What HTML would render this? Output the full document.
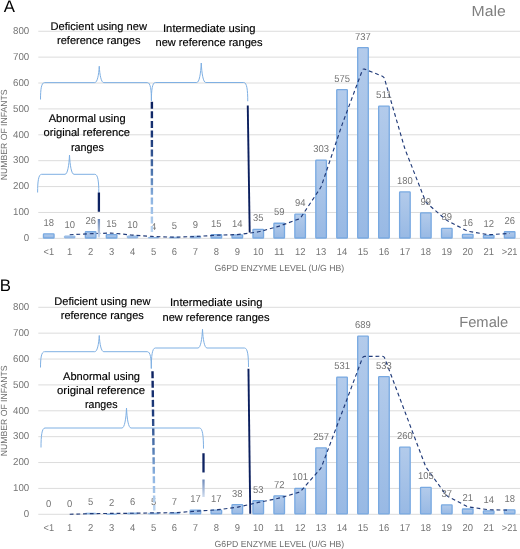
<!DOCTYPE html>
<html><head><meta charset="utf-8"><title>G6PD enzyme level</title>
<style>html,body{margin:0;padding:0;background:#fff}svg{display:block}text{font-family:"Liberation Sans",sans-serif;text-rendering:geometricPrecision}</style></head><body>
<svg width="520" height="549" viewBox="0 0 520 549">
<defs>
<linearGradient id="bar" x1="0" y1="0" x2="0" y2="1"><stop offset="0" stop-color="#b3cbeb"/><stop offset="1" stop-color="#98b9e4"/></linearGradient>
</defs>
<rect width="520" height="549" fill="#fff"/>
<g id="panel-A">
<line x1="38.3" x2="520" y1="238.35" y2="238.35" stroke="#dcdcdc" stroke-width="1"/>
<text x="23.80" y="241.15" font-size="10" fill="#747474" textLength="5.40" lengthAdjust="spacingAndGlyphs">0</text>
<line x1="38.3" x2="520" y1="212.46" y2="212.46" stroke="#dcdcdc" stroke-width="1"/>
<text x="13.00" y="215.26" font-size="10" fill="#747474" textLength="16.20" lengthAdjust="spacingAndGlyphs">100</text>
<line x1="38.3" x2="520" y1="186.57" y2="186.57" stroke="#dcdcdc" stroke-width="1"/>
<text x="13.00" y="189.37" font-size="10" fill="#747474" textLength="16.20" lengthAdjust="spacingAndGlyphs">200</text>
<line x1="38.3" x2="520" y1="160.69" y2="160.69" stroke="#dcdcdc" stroke-width="1"/>
<text x="13.00" y="163.49" font-size="10" fill="#747474" textLength="16.20" lengthAdjust="spacingAndGlyphs">300</text>
<line x1="38.3" x2="520" y1="134.80" y2="134.80" stroke="#dcdcdc" stroke-width="1"/>
<text x="13.00" y="137.60" font-size="10" fill="#747474" textLength="16.20" lengthAdjust="spacingAndGlyphs">400</text>
<line x1="38.3" x2="520" y1="108.91" y2="108.91" stroke="#dcdcdc" stroke-width="1"/>
<text x="13.00" y="111.71" font-size="10" fill="#747474" textLength="16.20" lengthAdjust="spacingAndGlyphs">500</text>
<line x1="38.3" x2="520" y1="83.02" y2="83.02" stroke="#dcdcdc" stroke-width="1"/>
<text x="13.00" y="85.82" font-size="10" fill="#747474" textLength="16.20" lengthAdjust="spacingAndGlyphs">600</text>
<line x1="38.3" x2="520" y1="57.13" y2="57.13" stroke="#dcdcdc" stroke-width="1"/>
<text x="13.00" y="59.93" font-size="10" fill="#747474" textLength="16.20" lengthAdjust="spacingAndGlyphs">700</text>
<line x1="38.3" x2="520" y1="31.25" y2="31.25" stroke="#dcdcdc" stroke-width="1"/>
<text x="13.00" y="34.05" font-size="10" fill="#747474" textLength="16.20" lengthAdjust="spacingAndGlyphs">800</text>
<rect x="43.45" y="233.84" width="10.6" height="4.16" fill="url(#bar)" stroke="#78a9e1" stroke-width="1.3" rx="0.6"/>
<rect x="64.40" y="235.91" width="10.6" height="2.09" fill="url(#bar)" stroke="#78a9e1" stroke-width="0.7" rx="0.6"/>
<rect x="85.35" y="231.77" width="10.6" height="6.23" fill="url(#bar)" stroke="#78a9e1" stroke-width="1.3" rx="0.6"/>
<rect x="106.30" y="234.62" width="10.6" height="3.38" fill="url(#bar)" stroke="#78a9e1" stroke-width="1.3" rx="0.6"/>
<rect x="127.25" y="235.91" width="10.6" height="2.09" fill="url(#bar)" stroke="#78a9e1" stroke-width="0.7" rx="0.6"/>
<rect x="148.20" y="237.46" width="10.6" height="0.54" fill="url(#bar)" stroke="#78a9e1" stroke-width="0.7" rx="0.6"/>
<rect x="169.15" y="237.21" width="10.6" height="0.79" fill="url(#bar)" stroke="#78a9e1" stroke-width="0.7" rx="0.6"/>
<rect x="190.10" y="236.17" width="10.6" height="1.83" fill="url(#bar)" stroke="#78a9e1" stroke-width="0.7" rx="0.6"/>
<rect x="211.05" y="234.62" width="10.6" height="3.38" fill="url(#bar)" stroke="#78a9e1" stroke-width="1.3" rx="0.6"/>
<rect x="232.00" y="234.88" width="10.6" height="3.12" fill="url(#bar)" stroke="#78a9e1" stroke-width="1.3" rx="0.6"/>
<rect x="252.95" y="229.44" width="10.6" height="8.56" fill="url(#bar)" stroke="#78a9e1" stroke-width="1.3" rx="0.6"/>
<rect x="273.90" y="223.23" width="10.6" height="14.77" fill="url(#bar)" stroke="#78a9e1" stroke-width="1.3" rx="0.6"/>
<rect x="294.85" y="214.17" width="10.6" height="23.83" fill="url(#bar)" stroke="#78a9e1" stroke-width="1.3" rx="0.6"/>
<rect x="315.80" y="160.06" width="10.6" height="77.94" fill="url(#bar)" stroke="#78a9e1" stroke-width="1.3" rx="0.6"/>
<rect x="336.75" y="89.64" width="10.6" height="148.36" fill="url(#bar)" stroke="#78a9e1" stroke-width="1.3" rx="0.6"/>
<rect x="357.70" y="47.71" width="10.6" height="190.29" fill="url(#bar)" stroke="#78a9e1" stroke-width="1.3" rx="0.6"/>
<rect x="378.65" y="106.21" width="10.6" height="131.79" fill="url(#bar)" stroke="#78a9e1" stroke-width="1.3" rx="0.6"/>
<rect x="399.60" y="191.90" width="10.6" height="46.10" fill="url(#bar)" stroke="#78a9e1" stroke-width="1.3" rx="0.6"/>
<rect x="420.55" y="212.87" width="10.6" height="25.13" fill="url(#bar)" stroke="#78a9e1" stroke-width="1.3" rx="0.6"/>
<rect x="441.50" y="228.40" width="10.6" height="9.60" fill="url(#bar)" stroke="#78a9e1" stroke-width="1.3" rx="0.6"/>
<rect x="462.45" y="234.36" width="10.6" height="3.64" fill="url(#bar)" stroke="#78a9e1" stroke-width="1.3" rx="0.6"/>
<rect x="483.40" y="235.39" width="10.6" height="2.61" fill="url(#bar)" stroke="#78a9e1" stroke-width="1.3" rx="0.6"/>
<rect x="504.35" y="231.77" width="10.6" height="6.23" fill="url(#bar)" stroke="#78a9e1" stroke-width="1.3" rx="0.6"/>
<path d="M69.70 234.73 L88.95 233.77 Q90.65 233.69 92.35 233.64 L109.90 233.10 Q111.60 233.04 113.29 233.21 L130.86 234.95 Q132.55 235.11 134.25 235.23 L151.80 236.42 Q153.50 236.54 155.20 236.59 L172.75 237.13 Q174.45 237.19 176.15 237.13 L193.70 236.59 Q195.40 236.54 197.10 236.43 L214.65 235.35 Q216.35 235.24 218.05 235.19 L235.60 234.65 Q237.30 234.60 238.99 234.39 L256.56 232.22 Q258.25 232.01 259.89 231.55 L277.56 226.64 Q279.20 226.18 280.80 225.60 L298.55 219.13 Q300.15 218.55 301.09 217.13 L320.16 188.38 Q321.10 186.96 321.64 185.35 L341.51 126.31 Q342.05 124.70 342.64 123.11 L362.41 70.12 Q363.00 68.52 364.58 69.15 L382.37 76.18 Q383.95 76.81 384.42 78.44 L404.43 147.27 Q404.90 148.91 405.52 150.49 L425.23 200.65 Q425.85 202.24 427.13 203.35 L445.52 219.37 Q446.80 220.49 448.31 221.26 L466.24 230.46 Q467.75 231.23 469.43 231.51 L487.02 234.45 Q488.70 234.73 490.40 234.62 L509.65 233.43" fill="none" stroke="#203a78" stroke-width="1.15" stroke-dasharray="3.8 2.9" stroke-linejoin="round"/>
<text x="43.50" y="225.89" font-size="10" fill="#747474" textLength="10.50" lengthAdjust="spacingAndGlyphs">18</text>
<text x="43.50" y="255.05" font-size="10" fill="#747474" textLength="10.50" lengthAdjust="spacingAndGlyphs">&lt;1</text>
<text x="64.45" y="227.96" font-size="10" fill="#747474" textLength="10.50" lengthAdjust="spacingAndGlyphs">10</text>
<text x="67.08" y="255.05" font-size="10" fill="#747474" textLength="5.25" lengthAdjust="spacingAndGlyphs">1</text>
<text x="85.40" y="223.82" font-size="10" fill="#747474" textLength="10.50" lengthAdjust="spacingAndGlyphs">26</text>
<text x="88.03" y="255.05" font-size="10" fill="#747474" textLength="5.25" lengthAdjust="spacingAndGlyphs">2</text>
<text x="106.35" y="226.67" font-size="10" fill="#747474" textLength="10.50" lengthAdjust="spacingAndGlyphs">15</text>
<text x="108.97" y="255.05" font-size="10" fill="#747474" textLength="5.25" lengthAdjust="spacingAndGlyphs">3</text>
<text x="127.30" y="227.96" font-size="10" fill="#747474" textLength="10.50" lengthAdjust="spacingAndGlyphs">10</text>
<text x="129.93" y="255.05" font-size="10" fill="#747474" textLength="5.25" lengthAdjust="spacingAndGlyphs">4</text>
<text x="150.88" y="229.51" font-size="10" fill="#747474" textLength="5.25" lengthAdjust="spacingAndGlyphs">4</text>
<text x="150.88" y="255.05" font-size="10" fill="#747474" textLength="5.25" lengthAdjust="spacingAndGlyphs">5</text>
<text x="171.82" y="229.26" font-size="10" fill="#747474" textLength="5.25" lengthAdjust="spacingAndGlyphs">5</text>
<text x="171.82" y="255.05" font-size="10" fill="#747474" textLength="5.25" lengthAdjust="spacingAndGlyphs">6</text>
<text x="192.78" y="228.22" font-size="10" fill="#747474" textLength="5.25" lengthAdjust="spacingAndGlyphs">9</text>
<text x="192.78" y="255.05" font-size="10" fill="#747474" textLength="5.25" lengthAdjust="spacingAndGlyphs">7</text>
<text x="211.10" y="226.67" font-size="10" fill="#747474" textLength="10.50" lengthAdjust="spacingAndGlyphs">15</text>
<text x="213.72" y="255.05" font-size="10" fill="#747474" textLength="5.25" lengthAdjust="spacingAndGlyphs">8</text>
<text x="232.05" y="226.93" font-size="10" fill="#747474" textLength="10.50" lengthAdjust="spacingAndGlyphs">14</text>
<text x="234.67" y="255.05" font-size="10" fill="#747474" textLength="5.25" lengthAdjust="spacingAndGlyphs">9</text>
<text x="253.00" y="221.49" font-size="10" fill="#747474" textLength="10.50" lengthAdjust="spacingAndGlyphs">35</text>
<text x="253.00" y="255.05" font-size="10" fill="#747474" textLength="10.50" lengthAdjust="spacingAndGlyphs">10</text>
<text x="273.95" y="215.28" font-size="10" fill="#747474" textLength="10.50" lengthAdjust="spacingAndGlyphs">59</text>
<text x="273.95" y="255.05" font-size="10" fill="#747474" textLength="10.50" lengthAdjust="spacingAndGlyphs">11</text>
<text x="294.90" y="206.22" font-size="10" fill="#747474" textLength="10.50" lengthAdjust="spacingAndGlyphs">94</text>
<text x="294.90" y="255.05" font-size="10" fill="#747474" textLength="10.50" lengthAdjust="spacingAndGlyphs">12</text>
<text x="313.22" y="152.11" font-size="10" fill="#747474" textLength="15.75" lengthAdjust="spacingAndGlyphs">303</text>
<text x="315.85" y="255.05" font-size="10" fill="#747474" textLength="10.50" lengthAdjust="spacingAndGlyphs">13</text>
<text x="334.18" y="81.69" font-size="10" fill="#747474" textLength="15.75" lengthAdjust="spacingAndGlyphs">575</text>
<text x="336.80" y="255.05" font-size="10" fill="#747474" textLength="10.50" lengthAdjust="spacingAndGlyphs">14</text>
<text x="355.12" y="39.76" font-size="10" fill="#747474" textLength="15.75" lengthAdjust="spacingAndGlyphs">737</text>
<text x="357.75" y="255.05" font-size="10" fill="#747474" textLength="10.50" lengthAdjust="spacingAndGlyphs">15</text>
<text x="376.07" y="98.26" font-size="10" fill="#747474" textLength="15.75" lengthAdjust="spacingAndGlyphs">511</text>
<text x="378.70" y="255.05" font-size="10" fill="#747474" textLength="10.50" lengthAdjust="spacingAndGlyphs">16</text>
<text x="397.02" y="183.95" font-size="10" fill="#747474" textLength="15.75" lengthAdjust="spacingAndGlyphs">180</text>
<text x="399.65" y="255.05" font-size="10" fill="#747474" textLength="10.50" lengthAdjust="spacingAndGlyphs">17</text>
<text x="420.60" y="204.92" font-size="10" fill="#747474" textLength="10.50" lengthAdjust="spacingAndGlyphs">99</text>
<text x="420.60" y="255.05" font-size="10" fill="#747474" textLength="10.50" lengthAdjust="spacingAndGlyphs">18</text>
<text x="441.55" y="220.45" font-size="10" fill="#747474" textLength="10.50" lengthAdjust="spacingAndGlyphs">39</text>
<text x="441.55" y="255.05" font-size="10" fill="#747474" textLength="10.50" lengthAdjust="spacingAndGlyphs">19</text>
<text x="462.50" y="226.41" font-size="10" fill="#747474" textLength="10.50" lengthAdjust="spacingAndGlyphs">16</text>
<text x="462.50" y="255.05" font-size="10" fill="#747474" textLength="10.50" lengthAdjust="spacingAndGlyphs">20</text>
<text x="483.45" y="227.44" font-size="10" fill="#747474" textLength="10.50" lengthAdjust="spacingAndGlyphs">12</text>
<text x="483.45" y="255.05" font-size="10" fill="#747474" textLength="10.50" lengthAdjust="spacingAndGlyphs">21</text>
<text x="504.40" y="223.82" font-size="10" fill="#747474" textLength="10.50" lengthAdjust="spacingAndGlyphs">26</text>
<text x="501.77" y="255.05" font-size="10" fill="#747474" textLength="15.75" lengthAdjust="spacingAndGlyphs">&gt;21</text>
<text x="214.6" y="271.00" font-size="8.9" fill="#6c6c6c" textLength="129.6" lengthAdjust="spacingAndGlyphs">G6PD ENZYME LEVEL (U/G HB)</text>
<text transform="translate(7.0 180.20) rotate(-90)" font-size="8.9" fill="#6c6c6c" textLength="90.8" lengthAdjust="spacingAndGlyphs">NUMBER OF INFANTS</text>
<text x="3.70" y="11.90" font-size="16.8" fill="#000">A</text>
<text x="471.60" y="16.25" font-size="14.7" fill="#7f7f7f" textLength="34.20" lengthAdjust="spacingAndGlyphs">Male</text>
<text x="50.50" y="30.00" font-size="11" fill="#000" stroke="#000" stroke-width="0.15" textLength="96.50" lengthAdjust="spacingAndGlyphs">Deficient using new</text><text x="57.00" y="44.25" font-size="11" fill="#000" stroke="#000" stroke-width="0.15" textLength="83.50" lengthAdjust="spacingAndGlyphs">reference ranges</text>
<text x="163.00" y="32.00" font-size="11" fill="#000" stroke="#000" stroke-width="0.15" textLength="92.50" lengthAdjust="spacingAndGlyphs">Intermediate using</text><text x="155.50" y="46.25" font-size="11" fill="#000" stroke="#000" stroke-width="0.15" textLength="107.00" lengthAdjust="spacingAndGlyphs">new reference ranges</text>
<text x="48.65" y="121.90" font-size="11" fill="#000" stroke="#000" stroke-width="0.15" textLength="76.95" lengthAdjust="spacingAndGlyphs">Abnormal using</text><text x="43.50" y="136.30" font-size="11" fill="#000" stroke="#000" stroke-width="0.15" textLength="86.50" lengthAdjust="spacingAndGlyphs">original reference</text><text x="71.00" y="150.60" font-size="11" fill="#000" stroke="#000" stroke-width="0.15" textLength="33.00" lengthAdjust="spacingAndGlyphs">ranges</text>
<path d="M40.50 99.50 C40.50 89.36 41.40 82.60 44.50 82.60 L94.75 82.60 C97.25 82.60 98.75 75.24 99.25 66.25 C99.75 75.24 101.25 82.60 103.75 82.60 L147.40 82.60 C150.50 82.60 151.40 89.88 151.40 100.80" fill="none" stroke="#7fb0e3" stroke-width="1"/>
<path d="M151.40 100.80 C151.40 89.82 152.30 82.50 155.40 82.50 L196.75 82.50 C199.25 82.50 200.75 73.72 201.25 63.00 C201.75 73.72 203.25 82.50 205.75 82.50 L243.75 82.50 C246.85 82.50 247.75 90.00 247.75 101.25" fill="none" stroke="#7fb0e3" stroke-width="1"/>
<path d="M37.60 192.50 C37.60 181.58 38.50 174.30 41.60 174.30 L65.00 174.30 C67.50 174.30 69.00 165.62 69.50 155.00 C70.00 165.62 71.50 174.30 74.00 174.30 L94.80 174.30 C97.90 174.30 98.80 181.58 98.80 192.50" fill="none" stroke="#7fb0e3" stroke-width="1"/>
<defs><linearGradient id="ga1" gradientUnits="userSpaceOnUse" x1="0" y1="102.0" x2="0" y2="232.0"><stop offset="0" stop-color="#0b1f5e"/><stop offset="0.3" stop-color="#1f3d7d"/><stop offset="0.55" stop-color="#5078b0"/><stop offset="0.75" stop-color="#8db4e2"/><stop offset="1" stop-color="#bdd6f1"/></linearGradient><linearGradient id="ga2" gradientUnits="userSpaceOnUse" x1="0" y1="193.0" x2="0" y2="237.5"><stop offset="0" stop-color="#0b1f5e"/><stop offset="0.42" stop-color="#0f2565"/><stop offset="0.6" stop-color="#6d89b8"/><stop offset="1" stop-color="#cfdcef"/></linearGradient></defs>
<line x1="151.9" x2="151.9" y1="101.8" y2="232" stroke="url(#ga1)" stroke-width="2.4" stroke-dasharray="7 2.56"/>
<line x1="98.9" x2="98.9" y1="192.6" y2="237.5" stroke="url(#ga2)" stroke-width="2.3" stroke-dasharray="19.2 7.3"/>
<line x1="247.75" y1="105.5" x2="249.7" y2="232.6" stroke="#0b1f5e" stroke-width="1.9"/>
</g>
<g id="panel-B">
<line x1="38.3" x2="520" y1="514.30" y2="514.30" stroke="#dcdcdc" stroke-width="1"/>
<text x="23.80" y="517.10" font-size="10" fill="#747474" textLength="5.40" lengthAdjust="spacingAndGlyphs">0</text>
<line x1="38.3" x2="520" y1="488.42" y2="488.42" stroke="#dcdcdc" stroke-width="1"/>
<text x="13.00" y="491.22" font-size="10" fill="#747474" textLength="16.20" lengthAdjust="spacingAndGlyphs">100</text>
<line x1="38.3" x2="520" y1="462.55" y2="462.55" stroke="#dcdcdc" stroke-width="1"/>
<text x="13.00" y="465.35" font-size="10" fill="#747474" textLength="16.20" lengthAdjust="spacingAndGlyphs">200</text>
<line x1="38.3" x2="520" y1="436.67" y2="436.67" stroke="#dcdcdc" stroke-width="1"/>
<text x="13.00" y="439.47" font-size="10" fill="#747474" textLength="16.20" lengthAdjust="spacingAndGlyphs">300</text>
<line x1="38.3" x2="520" y1="410.80" y2="410.80" stroke="#dcdcdc" stroke-width="1"/>
<text x="13.00" y="413.60" font-size="10" fill="#747474" textLength="16.20" lengthAdjust="spacingAndGlyphs">400</text>
<line x1="38.3" x2="520" y1="384.92" y2="384.92" stroke="#dcdcdc" stroke-width="1"/>
<text x="13.00" y="387.72" font-size="10" fill="#747474" textLength="16.20" lengthAdjust="spacingAndGlyphs">500</text>
<line x1="38.3" x2="520" y1="359.05" y2="359.05" stroke="#dcdcdc" stroke-width="1"/>
<text x="13.00" y="361.85" font-size="10" fill="#747474" textLength="16.20" lengthAdjust="spacingAndGlyphs">600</text>
<line x1="38.3" x2="520" y1="333.17" y2="333.17" stroke="#dcdcdc" stroke-width="1"/>
<text x="13.00" y="335.97" font-size="10" fill="#747474" textLength="16.20" lengthAdjust="spacingAndGlyphs">700</text>
<line x1="38.3" x2="520" y1="307.30" y2="307.30" stroke="#dcdcdc" stroke-width="1"/>
<text x="13.00" y="310.10" font-size="10" fill="#747474" textLength="16.20" lengthAdjust="spacingAndGlyphs">800</text>
<rect x="85.35" y="513.16" width="10.6" height="0.79" fill="url(#bar)" stroke="#78a9e1" stroke-width="0.7" rx="0.6"/>
<rect x="106.30" y="513.93" width="10.6" height="0.30" fill="url(#bar)" stroke="#78a9e1" stroke-width="0.7" rx="0.6"/>
<rect x="127.25" y="512.90" width="10.6" height="1.05" fill="url(#bar)" stroke="#78a9e1" stroke-width="0.7" rx="0.6"/>
<rect x="148.20" y="513.16" width="10.6" height="0.79" fill="url(#bar)" stroke="#78a9e1" stroke-width="0.7" rx="0.6"/>
<rect x="169.15" y="512.64" width="10.6" height="1.31" fill="url(#bar)" stroke="#78a9e1" stroke-width="0.7" rx="0.6"/>
<rect x="190.10" y="510.05" width="10.6" height="3.90" fill="url(#bar)" stroke="#78a9e1" stroke-width="1.3" rx="0.6"/>
<rect x="211.05" y="510.05" width="10.6" height="3.90" fill="url(#bar)" stroke="#78a9e1" stroke-width="1.3" rx="0.6"/>
<rect x="232.00" y="504.62" width="10.6" height="9.33" fill="url(#bar)" stroke="#78a9e1" stroke-width="1.3" rx="0.6"/>
<rect x="252.95" y="500.74" width="10.6" height="13.21" fill="url(#bar)" stroke="#78a9e1" stroke-width="1.3" rx="0.6"/>
<rect x="273.90" y="495.82" width="10.6" height="18.13" fill="url(#bar)" stroke="#78a9e1" stroke-width="1.3" rx="0.6"/>
<rect x="294.85" y="488.32" width="10.6" height="25.63" fill="url(#bar)" stroke="#78a9e1" stroke-width="1.3" rx="0.6"/>
<rect x="315.80" y="447.95" width="10.6" height="66.00" fill="url(#bar)" stroke="#78a9e1" stroke-width="1.3" rx="0.6"/>
<rect x="336.75" y="377.05" width="10.6" height="136.90" fill="url(#bar)" stroke="#78a9e1" stroke-width="1.3" rx="0.6"/>
<rect x="357.70" y="336.17" width="10.6" height="177.78" fill="url(#bar)" stroke="#78a9e1" stroke-width="1.3" rx="0.6"/>
<rect x="378.65" y="376.54" width="10.6" height="137.41" fill="url(#bar)" stroke="#78a9e1" stroke-width="1.3" rx="0.6"/>
<rect x="399.60" y="447.17" width="10.6" height="66.77" fill="url(#bar)" stroke="#78a9e1" stroke-width="1.3" rx="0.6"/>
<rect x="420.55" y="487.28" width="10.6" height="26.67" fill="url(#bar)" stroke="#78a9e1" stroke-width="1.3" rx="0.6"/>
<rect x="441.50" y="504.88" width="10.6" height="9.07" fill="url(#bar)" stroke="#78a9e1" stroke-width="1.3" rx="0.6"/>
<rect x="462.45" y="509.02" width="10.6" height="4.93" fill="url(#bar)" stroke="#78a9e1" stroke-width="1.3" rx="0.6"/>
<rect x="483.40" y="510.83" width="10.6" height="3.12" fill="url(#bar)" stroke="#78a9e1" stroke-width="1.3" rx="0.6"/>
<rect x="504.35" y="509.79" width="10.6" height="4.16" fill="url(#bar)" stroke="#78a9e1" stroke-width="1.3" rx="0.6"/>
<path d="M69.70 514.30 L88.95 513.71 Q90.65 513.65 92.35 513.63 L109.90 513.42 Q111.60 513.39 113.30 513.38 L130.85 513.28 Q132.55 513.26 134.25 513.23 L151.80 512.91 Q153.50 512.88 155.20 512.87 L172.75 512.76 Q174.45 512.75 176.15 512.62 L193.70 511.32 Q195.40 511.19 197.10 511.09 L214.65 510.01 Q216.35 509.90 218.04 509.68 L235.61 507.40 Q237.30 507.18 238.96 506.82 L256.59 502.90 Q258.25 502.53 259.91 502.18 L277.54 498.48 Q279.20 498.13 280.83 497.64 L298.52 492.40 Q300.15 491.92 301.27 490.64 L319.98 469.26 Q321.10 467.98 321.70 466.39 L341.45 413.94 Q342.05 412.35 342.65 410.76 L362.40 358.05 Q363.00 356.46 364.70 356.44 L382.25 356.22 Q383.95 356.20 384.55 357.79 L404.30 410.12 Q404.90 411.71 405.50 413.30 L425.25 465.49 Q425.85 467.08 426.85 468.45 L445.80 494.55 Q446.80 495.93 448.31 496.71 L466.24 506.01 Q467.75 506.80 469.43 507.04 L487.02 509.53 Q488.70 509.77 490.40 509.80 L509.65 510.16" fill="none" stroke="#203a78" stroke-width="1.15" stroke-dasharray="3.8 2.9" stroke-linejoin="round"/>
<text x="46.12" y="506.50" font-size="10" fill="#747474" textLength="5.25" lengthAdjust="spacingAndGlyphs">0</text>
<text x="43.50" y="531.00" font-size="10" fill="#747474" textLength="10.50" lengthAdjust="spacingAndGlyphs">&lt;1</text>
<text x="67.08" y="506.50" font-size="10" fill="#747474" textLength="5.25" lengthAdjust="spacingAndGlyphs">0</text>
<text x="67.08" y="531.00" font-size="10" fill="#747474" textLength="5.25" lengthAdjust="spacingAndGlyphs">1</text>
<text x="88.03" y="505.21" font-size="10" fill="#747474" textLength="5.25" lengthAdjust="spacingAndGlyphs">5</text>
<text x="88.03" y="531.00" font-size="10" fill="#747474" textLength="5.25" lengthAdjust="spacingAndGlyphs">2</text>
<text x="108.97" y="505.98" font-size="10" fill="#747474" textLength="5.25" lengthAdjust="spacingAndGlyphs">2</text>
<text x="108.97" y="531.00" font-size="10" fill="#747474" textLength="5.25" lengthAdjust="spacingAndGlyphs">3</text>
<text x="129.93" y="504.95" font-size="10" fill="#747474" textLength="5.25" lengthAdjust="spacingAndGlyphs">6</text>
<text x="129.93" y="531.00" font-size="10" fill="#747474" textLength="5.25" lengthAdjust="spacingAndGlyphs">4</text>
<text x="150.88" y="505.21" font-size="10" fill="#747474" textLength="5.25" lengthAdjust="spacingAndGlyphs">5</text>
<text x="150.88" y="531.00" font-size="10" fill="#747474" textLength="5.25" lengthAdjust="spacingAndGlyphs">5</text>
<text x="171.82" y="504.69" font-size="10" fill="#747474" textLength="5.25" lengthAdjust="spacingAndGlyphs">7</text>
<text x="171.82" y="531.00" font-size="10" fill="#747474" textLength="5.25" lengthAdjust="spacingAndGlyphs">6</text>
<text x="190.15" y="502.10" font-size="10" fill="#747474" textLength="10.50" lengthAdjust="spacingAndGlyphs">17</text>
<text x="192.78" y="531.00" font-size="10" fill="#747474" textLength="5.25" lengthAdjust="spacingAndGlyphs">7</text>
<text x="211.10" y="502.10" font-size="10" fill="#747474" textLength="10.50" lengthAdjust="spacingAndGlyphs">17</text>
<text x="213.72" y="531.00" font-size="10" fill="#747474" textLength="5.25" lengthAdjust="spacingAndGlyphs">8</text>
<text x="232.05" y="496.67" font-size="10" fill="#747474" textLength="10.50" lengthAdjust="spacingAndGlyphs">38</text>
<text x="234.67" y="531.00" font-size="10" fill="#747474" textLength="5.25" lengthAdjust="spacingAndGlyphs">9</text>
<text x="253.00" y="492.79" font-size="10" fill="#747474" textLength="10.50" lengthAdjust="spacingAndGlyphs">53</text>
<text x="253.00" y="531.00" font-size="10" fill="#747474" textLength="10.50" lengthAdjust="spacingAndGlyphs">10</text>
<text x="273.95" y="487.87" font-size="10" fill="#747474" textLength="10.50" lengthAdjust="spacingAndGlyphs">72</text>
<text x="273.95" y="531.00" font-size="10" fill="#747474" textLength="10.50" lengthAdjust="spacingAndGlyphs">11</text>
<text x="292.27" y="480.37" font-size="10" fill="#747474" textLength="15.75" lengthAdjust="spacingAndGlyphs">101</text>
<text x="294.90" y="531.00" font-size="10" fill="#747474" textLength="10.50" lengthAdjust="spacingAndGlyphs">12</text>
<text x="313.22" y="440.00" font-size="10" fill="#747474" textLength="15.75" lengthAdjust="spacingAndGlyphs">257</text>
<text x="315.85" y="531.00" font-size="10" fill="#747474" textLength="10.50" lengthAdjust="spacingAndGlyphs">13</text>
<text x="334.18" y="369.10" font-size="10" fill="#747474" textLength="15.75" lengthAdjust="spacingAndGlyphs">531</text>
<text x="336.80" y="531.00" font-size="10" fill="#747474" textLength="10.50" lengthAdjust="spacingAndGlyphs">14</text>
<text x="355.12" y="328.22" font-size="10" fill="#747474" textLength="15.75" lengthAdjust="spacingAndGlyphs">689</text>
<text x="357.75" y="531.00" font-size="10" fill="#747474" textLength="10.50" lengthAdjust="spacingAndGlyphs">15</text>
<text x="376.07" y="368.59" font-size="10" fill="#747474" textLength="15.75" lengthAdjust="spacingAndGlyphs">533</text>
<text x="378.70" y="531.00" font-size="10" fill="#747474" textLength="10.50" lengthAdjust="spacingAndGlyphs">16</text>
<text x="397.02" y="439.22" font-size="10" fill="#747474" textLength="15.75" lengthAdjust="spacingAndGlyphs">260</text>
<text x="399.65" y="531.00" font-size="10" fill="#747474" textLength="10.50" lengthAdjust="spacingAndGlyphs">17</text>
<text x="417.97" y="479.33" font-size="10" fill="#747474" textLength="15.75" lengthAdjust="spacingAndGlyphs">105</text>
<text x="420.60" y="531.00" font-size="10" fill="#747474" textLength="10.50" lengthAdjust="spacingAndGlyphs">18</text>
<text x="441.55" y="496.93" font-size="10" fill="#747474" textLength="10.50" lengthAdjust="spacingAndGlyphs">37</text>
<text x="441.55" y="531.00" font-size="10" fill="#747474" textLength="10.50" lengthAdjust="spacingAndGlyphs">19</text>
<text x="462.50" y="501.07" font-size="10" fill="#747474" textLength="10.50" lengthAdjust="spacingAndGlyphs">21</text>
<text x="462.50" y="531.00" font-size="10" fill="#747474" textLength="10.50" lengthAdjust="spacingAndGlyphs">20</text>
<text x="483.45" y="502.88" font-size="10" fill="#747474" textLength="10.50" lengthAdjust="spacingAndGlyphs">14</text>
<text x="483.45" y="531.00" font-size="10" fill="#747474" textLength="10.50" lengthAdjust="spacingAndGlyphs">21</text>
<text x="504.40" y="501.84" font-size="10" fill="#747474" textLength="10.50" lengthAdjust="spacingAndGlyphs">18</text>
<text x="501.77" y="531.00" font-size="10" fill="#747474" textLength="15.75" lengthAdjust="spacingAndGlyphs">&gt;21</text>
<text x="214.6" y="546.95" font-size="8.9" fill="#6c6c6c" textLength="129.6" lengthAdjust="spacingAndGlyphs">G6PD ENZYME LEVEL (U/G HB)</text>
<text transform="translate(7.0 456.20) rotate(-90)" font-size="8.9" fill="#6c6c6c" textLength="90.8" lengthAdjust="spacingAndGlyphs">NUMBER OF INFANTS</text>
<text x="-0.30" y="290.80" font-size="16.8" fill="#000">B</text>
<text x="459.20" y="327.00" font-size="14.7" fill="#7f7f7f" textLength="49.10" lengthAdjust="spacingAndGlyphs">Female</text>
<text x="54.25" y="305.00" font-size="11" fill="#000" stroke="#000" stroke-width="0.15" textLength="96.25" lengthAdjust="spacingAndGlyphs">Deficient using new</text><text x="60.75" y="319.25" font-size="11" fill="#000" stroke="#000" stroke-width="0.15" textLength="83.00" lengthAdjust="spacingAndGlyphs">reference ranges</text>
<text x="170.00" y="306.25" font-size="11" fill="#000" stroke="#000" stroke-width="0.15" textLength="92.50" lengthAdjust="spacingAndGlyphs">Intermediate using</text><text x="162.50" y="320.50" font-size="11" fill="#000" stroke="#000" stroke-width="0.15" textLength="107.00" lengthAdjust="spacingAndGlyphs">new reference ranges</text>
<text x="63.00" y="380.00" font-size="11" fill="#000" stroke="#000" stroke-width="0.15" textLength="77.00" lengthAdjust="spacingAndGlyphs">Abnormal using</text><text x="57.00" y="394.25" font-size="11" fill="#000" stroke="#000" stroke-width="0.15" textLength="88.00" lengthAdjust="spacingAndGlyphs">original reference</text><text x="85.00" y="408.25" font-size="11" fill="#000" stroke="#000" stroke-width="0.15" textLength="32.50" lengthAdjust="spacingAndGlyphs">ranges</text>
<path d="M40.50 367.50 C40.50 358.02 41.40 351.70 44.50 351.70 L94.75 351.70 C97.25 351.70 98.75 344.41 99.25 335.50 C99.75 344.41 101.25 351.70 103.75 351.70 L147.30 351.70 C150.40 351.70 151.30 358.42 151.30 368.50" fill="none" stroke="#7fb0e3" stroke-width="1"/>
<path d="M151.30 368.50 C151.30 356.20 152.20 348.00 155.30 348.00 L198.00 348.00 C200.50 348.00 202.00 339.56 202.50 329.25 C203.00 339.56 204.50 348.00 207.00 348.00 L244.50 348.00 C247.60 348.00 248.50 355.60 248.50 367.00" fill="none" stroke="#7fb0e3" stroke-width="1"/>
<path d="M41.00 447.50 C41.00 435.80 41.90 428.00 45.00 428.00 L122.00 428.00 C124.50 428.00 126.00 419.00 126.50 408.00 C127.00 419.00 128.50 428.00 131.00 428.00 L199.50 428.00 C202.60 428.00 203.50 436.24 203.50 448.60" fill="none" stroke="#7fb0e3" stroke-width="1"/>
<defs><linearGradient id="gb1" gradientUnits="userSpaceOnUse" x1="0" y1="371.0" x2="0" y2="511.0"><stop offset="0" stop-color="#0b1f5e"/><stop offset="0.3" stop-color="#1f3d7d"/><stop offset="0.55" stop-color="#5078b0"/><stop offset="0.75" stop-color="#8db4e2"/><stop offset="1" stop-color="#bdd6f1"/></linearGradient><linearGradient id="gb2" gradientUnits="userSpaceOnUse" x1="0" y1="453.0" x2="0" y2="497.0"><stop offset="0" stop-color="#0b1f5e"/><stop offset="0.42" stop-color="#0f2565"/><stop offset="0.6" stop-color="#6d89b8"/><stop offset="1" stop-color="#cfdcef"/></linearGradient></defs>
<line x1="152.5" x2="154.3" y1="371.2" y2="510.6" stroke="url(#gb1)" stroke-width="2.4" stroke-dasharray="7 2.56"/>
<line x1="203.5" x2="203.5" y1="453.2" y2="497" stroke="url(#gb2)" stroke-width="2.3" stroke-dasharray="19.2 7"/>
<line x1="248.45" y1="368.8" x2="250.25" y2="513.8" stroke="#0b1f5e" stroke-width="1.9"/>
</g>
</svg></body></html>
